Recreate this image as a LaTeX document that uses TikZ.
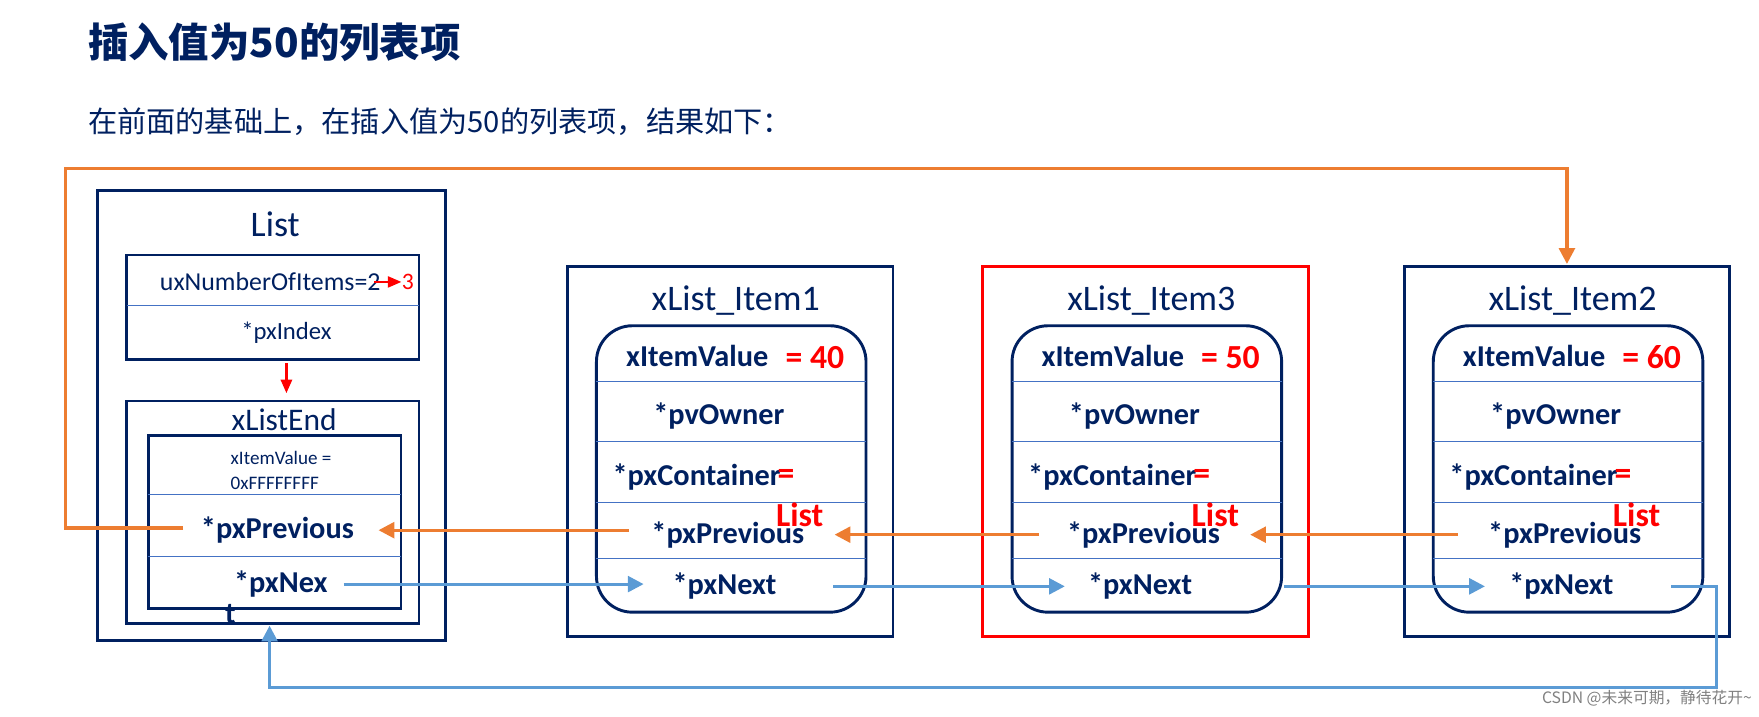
\documentclass[tikz,border=0pt]{standalone}
\usepackage{fontspec}
\setmainfont{Carlito}
\newfontfamily\cjk{Noto Sans CJK SC}
\usetikzlibrary{arrows.meta}
\definecolor{navy}{HTML}{002060}
\definecolor{lblue}{HTML}{5B9BD5}
\definecolor{orng}{HTML}{ED7D31}
\definecolor{thin}{HTML}{4472C4}
\begin{document}
\begin{tikzpicture}[x=0.5pt,y=-0.5pt,
  box/.style={draw=navy,line width=1.3pt},
  dv/.style={draw=thin,line width=0.4pt},
  fld/.style={text=navy,font=\bfseries\fontsize{13.5}{15}\selectfont,inner sep=0pt},
  ttl/.style={text=navy,font=\fontsize{16}{18}\selectfont,inner sep=0pt},
  redt/.style={text=red,font=\bfseries\fontsize{15}{17}\selectfont,inner sep=0pt},
  oarr/.style={draw=orng,line width=1.4pt,-{Triangle[length=7pt,width=7pt]}},
  barr/.style={draw=lblue,line width=1.4pt,-{Triangle[length=7pt,width=7pt]}}]
\useasboundingbox (0,0) rectangle (1566,638);
\node[anchor=west,text=navy,inner sep=0pt,font=\cjk\bfseries\fontsize{18}{20}\selectfont] (title) at (78,38) {插入值为50的列表项};
\node[anchor=west,text=navy,inner sep=0pt,font=\cjk\fontsize{13}{15}\selectfont] (sub) at (78,108) {在前面的基础上，在插入值为50的列表项，结果如下：};
% List
\draw[box] (87,170) rectangle (397,570);
\node[ttl] (ltitle) at (245,200) {List};
\draw[box] (113,227) rectangle (373,320);
\draw[dv] (113,272) -- (373,272);
\node[anchor=west,text=navy,inner sep=0pt,font=\fontsize{11.5}{13}\selectfont] (unum) at (142,251) {uxNumberOfItems=2};
\coordinate (ua) at (333,251);
\node[text=red,inner sep=0pt,font=\fontsize{10.5}{12}\selectfont] (three) at (363,251) {3};
\draw[red,line width=0.7pt,-{Triangle[length=6pt,width=5pt]}] (ua) -- (three.west);
\node[text=navy,inner sep=0pt,font=\fontsize{11}{13}\selectfont] (pidx) at (255,296) {*pxIndex};
\coordinate (r1) at (255,323); \coordinate (r2) at (255,350);
\draw[red,line width=1pt,-{Triangle[length=6pt,width=5pt]}] (r1) -- (r2);
\draw[box] (113,357) rectangle (373,555);
\node[ttl,font=\fontsize{14}{16}\selectfont] (lend) at (253,374) {xListEnd};
\draw[box] (132,388) rectangle (357,542);
\draw[dv] (132,440) -- (357,440);
\draw[dv] (132,495) -- (357,495);
\node[anchor=west,text=navy,inner sep=0pt,font=\fontsize{8.5}{10}\selectfont] (iv1) at (205,408) {xItemValue =};
\node[anchor=west,text=navy,inner sep=0pt,font=\fontsize{8.5}{10}\selectfont] (iv2) at (205,430) {0xFFFFFFFF};
\node[fld] (eprev) at (247,472) {*pxPrevious};
\node[fld] (enext) at (250,520) {*pxNex};
\node[fld] (et) at (205,547) {t};
% items
\foreach \n/\dx/\v/\bc in {1/0/40/navy,3/370/50/red,2/745/60/navy}{
  \begin{scope}[xshift=\dx*0.5pt]
  \draw[box,draw=\bc] (505,237) rectangle (795,567);
  \node[ttl] (t\n) at (655,268) {xList\_Item\n};
  \draw[box,rounded corners=16pt] (531,290) rectangle (771,545);
  \foreach \yy in {340,393,447,497} \draw[dv] (531,\yy) -- (771,\yy);
  \node[fld,anchor=west] (v\n) at (557,317) {xItemValue};
  \node[redt,anchor=west] (vv\n) at (699,318) {= \v};
  \node[fld] (o\n) at (640,370) {*pvOwner};
  \node[fld,anchor=west] (c\n) at (545,425) {*pxContainer};
  \node[redt,anchor=west] (ce\n) at (692,425) {=};
  \node[fld] (p\n) at (648,476) {*pxPrevious};
  \node[redt] (cl\n) at (712,458) {List};
  \node[fld] (nx\n) at (645,522) {*pxNext};
  \end{scope}
}
% orange arrows
\coordinate (oa1) at (560,472); \coordinate (oa2) at (337,472);
\draw[oarr] (oa1) -- (oa2);
\coordinate (ob1) at (925,476); \coordinate (ob2) at (743,476);
\draw[oarr] (ob1) -- (ob2);
\coordinate (oc1) at (1298,476); \coordinate (oc2) at (1113,476);
\draw[oarr] (oc1) -- (oc2);
\coordinate (ol) at (163,470); \coordinate (ot) at (1395,235);
\draw[oarr] (ol) -- (58,470) -- (58,150) -- (1395,150) -- (ot);
% blue arrows
\coordinate (ba1) at (306,520); \coordinate (ba2) at (573,520);
\draw[barr] (ba1) -- (ba2);
\coordinate (bb1) at (742,522); \coordinate (bb2) at (948,522);
\draw[barr] (bb1) -- (bb2);
\coordinate (bc1) at (1143,522); \coordinate (bc2) at (1322,522);
\draw[barr] (bc1) -- (bc2);
\coordinate (bd1) at (1488,522); \coordinate (bd2) at (240,557);
\draw[barr] (bd1) -- (1528,522) -- (1528,612) -- (240,612) -- (bd2);
\node[anchor=east,text=gray,inner sep=0pt,font=\cjk\fontsize{7}{8}\selectfont] (wm) at (1560,622) {CSDN @未来可期，静待花开\textasciitilde};
\end{tikzpicture}
\end{document}
